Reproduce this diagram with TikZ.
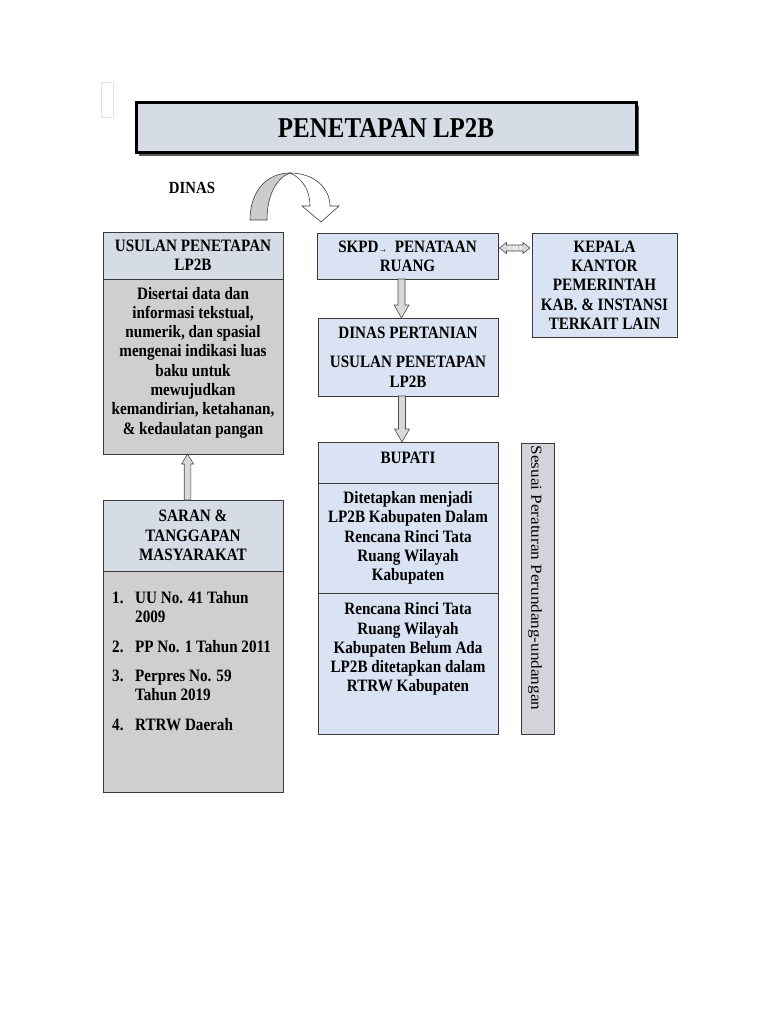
\documentclass[tikz,border=0pt]{standalone}
\usepackage{fontspec}
\setmainfont{Liberation Serif}[FakeStretch=0.87]
\newfontfamily\vertfont{Liberation Serif}[FakeStretch=1.12]
\usetikzlibrary{calc}
\definecolor{hdrblue}{HTML}{D6DCE5}
\definecolor{boxblue}{HTML}{DAE3F3}
\definecolor{boxgray}{HTML}{D0CECE}
\definecolor{vgray}{HTML}{D3D4D9}
\definecolor{edge}{HTML}{3A3A3A}
\newcommand\blkdown[2]{%
  \draw[blk] ($(#1)+(-3.5,0)$) -- ($(#2)+(-3.5,-13)$) -- ($(#2)+(-7.5,-13)$) -- (#2) -- ($(#2)+(7.5,-13)$) -- ($(#2)+(3.5,-13)$) -- ($(#1)+(3.5,0)$) -- cycle;}
\newcommand\blkup[2]{%
  \draw[blk] ($(#1)+(-3.3,0)$) -- ($(#2)+(-3.3,10)$) -- ($(#2)+(-6,10)$) -- (#2) -- ($(#2)+(6,10)$) -- ($(#2)+(3.3,10)$) -- ($(#1)+(3.3,0)$) -- cycle;}
\newcommand\itemnum[1]{\makebox[23pt][l]{#1}}
\begin{document}
\begin{tikzpicture}[x=1pt,y=-1pt,
  boxn/.style={draw=edge, line width=0.9pt, anchor=north west, inner sep=0pt, outer sep=0pt},
  bt/.style={font=\fontsize{17.4}{19.3}\selectfont\bfseries, align=center, inner sep=0pt},
  lt/.style={font=\fontsize{17.4}{19}\selectfont\bfseries, align=left, inner sep=0pt, anchor=north west},
  blk/.style={draw=gray!60!black, fill=gray!30, line width=0.6pt}]
\useasboundingbox (0,0) rectangle (768,1024);
\fill[white] (0,0) rectangle (768,1024);

% faint mark
\node[draw=black!12, line width=0.6pt, anchor=north west, minimum width=12, minimum height=35, inner sep=0pt] (mark) at (101,82) {};

% title
\fill[black!65] (139,106) rectangle (639,156);
\node[boxn, draw=black, line width=3pt, fill=hdrblue, minimum width=500, minimum height=50] (title) at (136,103) {};
\node[bt, font=\fontsize{28.7}{30}\selectfont\bfseries] (titletxt) at (title.center) {PENETAPAN LP2B};

% DINAS label and curved arrow
\node[bt, font=\fontsize{17}{19}\selectfont\bfseries, anchor=base] (dinaslbl) at (192,194) {DINAS};
\draw[draw=gray!50!black, fill=white, line width=0.6pt] (290,173) .. controls (314,173) and (330,188) .. (330,206) -- (339,206) -- (321,222) -- (302,206) -- (310,206) .. controls (310,190) and (302,178) .. (290,173) -- cycle;
\draw[draw=gray!50!black, fill=gray!40, line width=0.6pt] (250,220) .. controls (250,192) and (266,173) .. (290,173) .. controls (276,178) and (267,196) .. (267,220) -- cycle;

% left column
\node[boxn, fill=hdrblue, minimum width=180, minimum height=47, bt] (usulan) at (103,232) {USULAN PENETAPAN\\LP2B};
\node[boxn, fill=boxgray, minimum width=180, minimum height=175] (disertai) at (103,279) {};
\node[bt] (disertaitxt) at ($(disertai.center)+(0,-4)$) {Disertai data dan\\informasi tekstual,\\numerik, dan spasial\\mengenai indikasi luas\\baku untuk\\mewujudkan\\kemandirian, ketahanan,\\\& kedaulatan pangan};
\node[boxn, fill=hdrblue, minimum width=180, minimum height=71, bt] (saran) at (103,500) {SARAN \&\\TANGGAPAN\\MASYARAKAT};
\node[boxn, fill=boxgray, minimum width=180, minimum height=221] (list) at (103,571) {};
\node[lt] (i1) at (112,591) {\itemnum{1.}UU No. 41 Tahun\\\itemnum{}2009};
\node[lt] (i2) at (112,640) {\itemnum{2.}PP No. 1 Tahun 2011};
\node[lt] (i3) at (112,670) {\itemnum{3.}Perpres No. 59\\\itemnum{}Tahun 2019};
\node[lt] (i4) at (112,718) {\itemnum{4.}RTRW Daerah};

% right column
\node[boxn, fill=boxblue, minimum width=181, minimum height=46, bt] (skpd) at (317,233) {SKPD{\fontsize{10}{10}\selectfont\mdseries →}\ \ PENATAAN\\RUANG};
\node[boxn, fill=boxblue, minimum width=145, minimum height=104, bt] (kepala) at (532,233) {KEPALA\\KANTOR\\PEMERINTAH\\KAB. \& INSTANSI\\TERKAIT LAIN};
\node[boxn, fill=boxblue, minimum width=180, minimum height=78, bt] (dinas) at (318,318) {DINAS PERTANIAN\\[10pt]USULAN PENETAPAN\\LP2B};
\node[boxn, fill=boxblue, minimum width=180, minimum height=41] (bupati) at (318,442) {};
\node[bt, anchor=base] (bupatitxt) at (bupati.center |- 0,463) {BUPATI};
\node[boxn, fill=boxblue, minimum width=180, minimum height=110, bt] (bup2) at (318,483) {Ditetapkan menjadi\\LP2B Kabupaten Dalam\\Rencana Rinci Tata\\Ruang Wilayah\\Kabupaten};
\node[boxn, fill=boxblue, minimum width=180, minimum height=141] (bup3) at (318,593) {};
\node[bt, anchor=north] (bup3txt) at (bup3.center |- 0,602.5) {Rencana Rinci Tata\\Ruang Wilayah\\Kabupaten Belum Ada\\LP2B ditetapkan dalam\\RTRW Kabupaten};
\node[boxn, fill=vgray, minimum width=33, minimum height=291] (vbox) at (521,443) {};
\node[rotate=-90, inner sep=0pt, text=black, font=\vertfont\fontsize{15.3}{15}\selectfont] (vtxt) at (535,578) {Sesuai Peraturan Perundang-undangan};

% block arrows
\coordinate (a1s) at ($(skpd.south)+(-6,0)$);
\coordinate (a1e) at (a1s |- dinas.north);
\blkdown{a1s}{a1e}
\coordinate (a2s) at ($(dinas.south)+(-6,0)$);
\coordinate (a2e) at (a2s |- bupati.north);
\blkdown{a2s}{a2e}
\coordinate (a3s) at ($(saran.north)+(-5.5,0)$);
\coordinate (a3e) at (a3s |- disertai.south);
\blkup{a3s}{a3e}

% double arrow
\coordinate (d1) at ($(skpd.north east)+(1.5,15)$);
\coordinate (d2) at ($(d1 -| kepala.west)+(-2,0)$);
\draw[blk] (d1) -- ($(d1)+(7,-5.5)$) -- ($(d1)+(7,-3)$) -- ($(d2)+(-7,-3)$) -- ($(d2)+(-7,-5.5)$) -- (d2) -- ($(d2)+(-7,5.5)$) -- ($(d2)+(-7,3)$) -- ($(d1)+(7,3)$) -- ($(d1)+(7,5.5)$) -- cycle;
\foreach \k in {0.33,0.45,0.57,0.69}
  \draw[white, line width=0.9pt] ($(d1)!\k!(d2)+(0,-2.4)$) -- ($(d1)!\k!(d2)+(0,2.4)$);
\end{tikzpicture}
\end{document}
